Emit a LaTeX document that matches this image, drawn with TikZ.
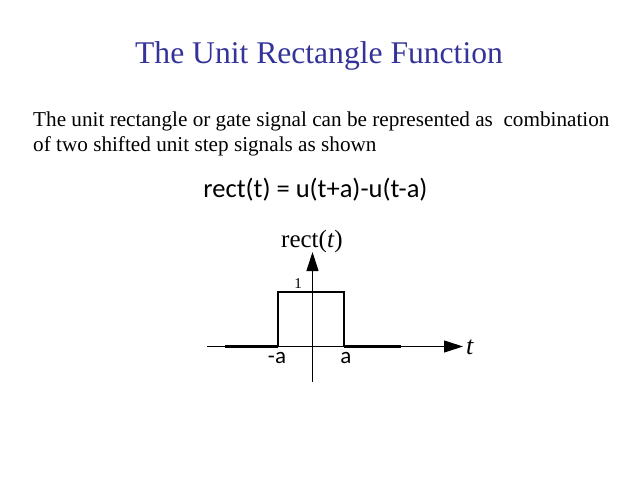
\documentclass[tikz,border=0pt]{standalone}
\usepackage{fontspec}
\setmainfont{Liberation Serif}
\newfontfamily\calibri{Carlito}
\usepackage{xcolor}
\usetikzlibrary{arrows.meta, positioning}
\definecolor{titleblue}{RGB}{51,51,153}

\begin{document}
\begin{tikzpicture}[x=1pt, y=-1pt, font=\fontsize{21.2pt}{25pt}\selectfont,
  axis/.style={line width=1.1pt, -{Triangle[length=19pt,width=12pt]}},
  pulse/.style={line width=1.8pt},
  ground/.style={line width=2.6pt}]
		\useasboundingbox (0,0) rectangle (638,479);
		% header
		\node [anchor=base, text=titleblue, font=\fontsize{31.6pt}{36pt}\selectfont] (title) at (319, 63) {The Unit Rectangle Function};
		\node [anchor=base west, inner sep=0pt] (line1) at (33, 126) {The unit rectangle or gate signal can be represented as\ \ combination};
		\node [anchor=base west, inner sep=0pt] (line2) at (33, 151) {of two shifted unit step signals as shown};
		\node [anchor=base, font=\calibri\fontsize{26.5pt}{30pt}\selectfont] (formula) at (315.5, 197) {rect(t) = u(t+a)-u(t-a)};
		% axes
		\coordinate (xstart) at (207, 346.5);
		\coordinate (xend) at (463, 346.5);
		\coordinate (ystart) at (312.5, 382);
		\coordinate (yend) at (312.5, 252);
		\draw [axis] (xstart) -- (xend);
		\draw [axis] (ystart) -- (yend);
		% pulse
		\coordinate (gl) at (225, 346.5);
		\coordinate (ma) at (278, 346.5);
		\coordinate (pa) at (344, 346.5);
		\coordinate (gr) at (401, 346.5);
		\coordinate (matop) at (278, 292);
		\coordinate (patop) at (344, 292);
		\draw [ground] (gl) -- (ma);
		\draw [ground] (pa) -- (gr);
		\draw [pulse] (ma) -- (matop) -- (patop) -- (pa);
		% labels
		\node [font=\fontsize{25pt}{28pt}\selectfont] (ylabel) at (312, 241) {rect(\textit{t})};
		\node [font=\fontsize{15pt}{17pt}\selectfont] (one) at (298, 284) {1};
		\node [font=\fontsize{26pt}{28pt}\selectfont] (xlabel) at (470, 347) {\textit{t}};
		\node [font=\calibri\fontsize{23pt}{26pt}\selectfont] (minusa) at (277, 358) {-a};
		\node [font=\calibri\fontsize{23pt}{26pt}\selectfont] (plusa) at (346, 358) {a};
	\end{tikzpicture}
\end{document}
